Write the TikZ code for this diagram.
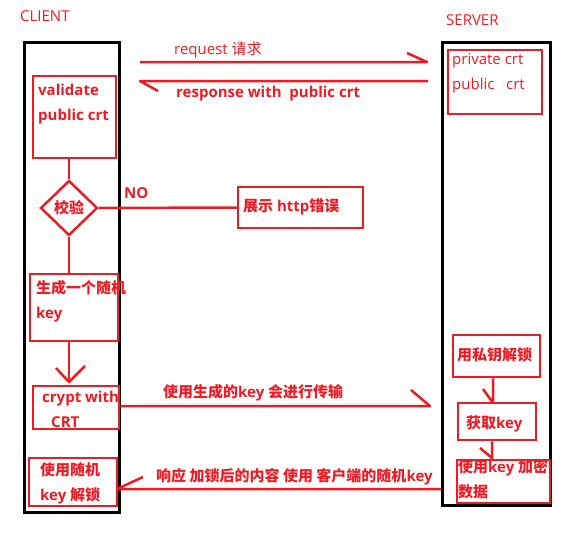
\documentclass[tikz,border=0pt]{standalone}
\usepackage{fontspec}
\setmainfont{Open Sans}
\newfontfamily\cjk{Noto Sans CJK SC}
\newcommand{\zh}[1]{{\cjk #1}}
\usepackage{tikz}
\usetikzlibrary{shapes.geometric}
\definecolor{paintred}{RGB}{237,28,36}

\tikzset{
  link/.style={draw=paintred,line width=2.5pt,line join=round},
  txt/.style={text=paintred,inner sep=0pt,anchor=west,align=left,
              font=\fontsize{15}{25}\selectfont},
  btxt/.style={txt,font=\fontsize{15}{25}\selectfont\bfseries}
}

\begin{document}
\begin{tikzpicture}[x=1pt,y=-1pt]
            \useasboundingbox (0,0) rectangle (578,533);

            % lanes
            \begin{scope}[every node/.style={draw=black,line width=3pt,rectangle,inner sep=0pt}]
                \node (client) [minimum width=95pt,minimum height=470pt] at (71.5,277) {};
                \node (server) [minimum width=108pt,minimum height=463pt] at (496,273.5) {};
            \end{scope}

            \node (clientlbl) [txt] at (20,16) {CLIENT};
            \node (serverlbl) [txt] at (446,20) {SERVER};

            % boxes
            \begin{scope}[every node/.style={draw=paintred,line width=2.5pt,rectangle,inner sep=0pt}]
                \node (crt) [minimum width=94pt,minimum height=64pt] at (495,82) {};
                \node (val) [minimum width=83pt,minimum height=82pt] at (74.5,117) {};
                \node (chk) [diamond,minimum width=57pt,minimum height=55pt,
                             text=paintred,font=\fontsize{15}{18}\selectfont\bfseries] at (69,208) {\zh{校验}};
                \node (err) [minimum width=125pt,minimum height=41pt] at (300.5,207.5) {};
                \node (gen) [minimum width=88pt,minimum height=67pt] at (74,307.5) {};
                \node (crypt) [minimum width=86pt,minimum height=43pt] at (76,407.5) {};
                \node (dec) [minimum width=87pt,minimum height=42pt] at (496.5,356) {};
                \node (getkey) [minimum width=78pt,minimum height=37pt] at (497,421.5) {};
                \node (enc) [minimum width=93pt,minimum height=43pt] at (503.5,481.5) {};
                \node (unlock) [minimum width=88pt,minimum height=48pt] at (73,482) {};
            \end{scope}

            % texts
            \node (crttext) [txt] at (452,73) {private crt\\public\ \ \ crt};
            \node (valtext) [btxt] at (38,104.5) {validate\\public crt};
            \node (errtext) [btxt] at (243,207) {\zh{展示} http\zh{错误}};
            \node (gentext) [btxt] at (36,301) {\zh{生成一个随机}\\key};
            \node (crypttext) [btxt] at (42,409) {crypt with\\\hspace*{9pt}CRT};
            \node (dectext) [btxt] at (457,355) {\zh{用私钥解锁}};
            \node (getkeytext) [btxt] at (466,424) {\zh{获取}key};
            \node (enctext) [btxt] at (458,479.5) {\zh{使用}key \zh{加密}\\\zh{数据}};
            \node (unlocktext) [btxt] at (40,483) {\zh{使用随机}\\key \zh{解锁}};

            % message end points
            \coordinate (reqs) at (140,62);
            \coordinate (reqe) at (427,62);
            \coordinate (resps) at (428,81);
            \coordinate (respe) at (140,81);
            \coordinate (genin) at (69,382);
            \coordinate (sendin) at (430,406);
            \coordinate (getin) at (493,403);
            \coordinate (encin) at (492,458);
            \coordinate (backs) at (441,489);
            \coordinate (backe) at (117,489);

            \node (reqlbl) [txt] at (174,50) {request \zh{请求}};
            \node (resplbl) [btxt] at (176,94) {response with\ \ public crt};
            \node (nolbl) [btxt] at (124,193) {NO};
            \node (sendlbl) [btxt] at (163,393) {\zh{使用生成的}key \zh{会进行传输}};
            \node (backlbl) [btxt] at (156,477) {\zh{响应 加锁后的内容 使用 客户端的随机}key};

            % connectors, tips drawn by hand
            \draw [link] (reqs) -- (reqe) -- ++(-20,-9);
            \draw [link] (resps) -- (respe) -- ++(18,10);
            \draw [link] (chk.north |- val.south) -- (chk.north);
            \draw [link] (chk.east) -- (err.west);
            \draw [link] (chk.south) -- (chk.south |- gen.north);
            \draw [link] (chk.south |- gen.south) -- (genin);
            \draw [link] (genin) ++(-13,-14) -- (genin) -- ++(16,-16);
            \draw [link] (crypt.east |- sendin) -- (sendin) -- ++(-19,-16);
            \draw [link] (getin |- dec.south) -- (getin) -- ++(-10,-14);
            \draw [link] (encin |- getkey.south) -- (encin) -- ++(-12,-10);
            \draw [link] (backs) -- (backe) -- ++(26,-12);
        \end{tikzpicture}
\end{document}
